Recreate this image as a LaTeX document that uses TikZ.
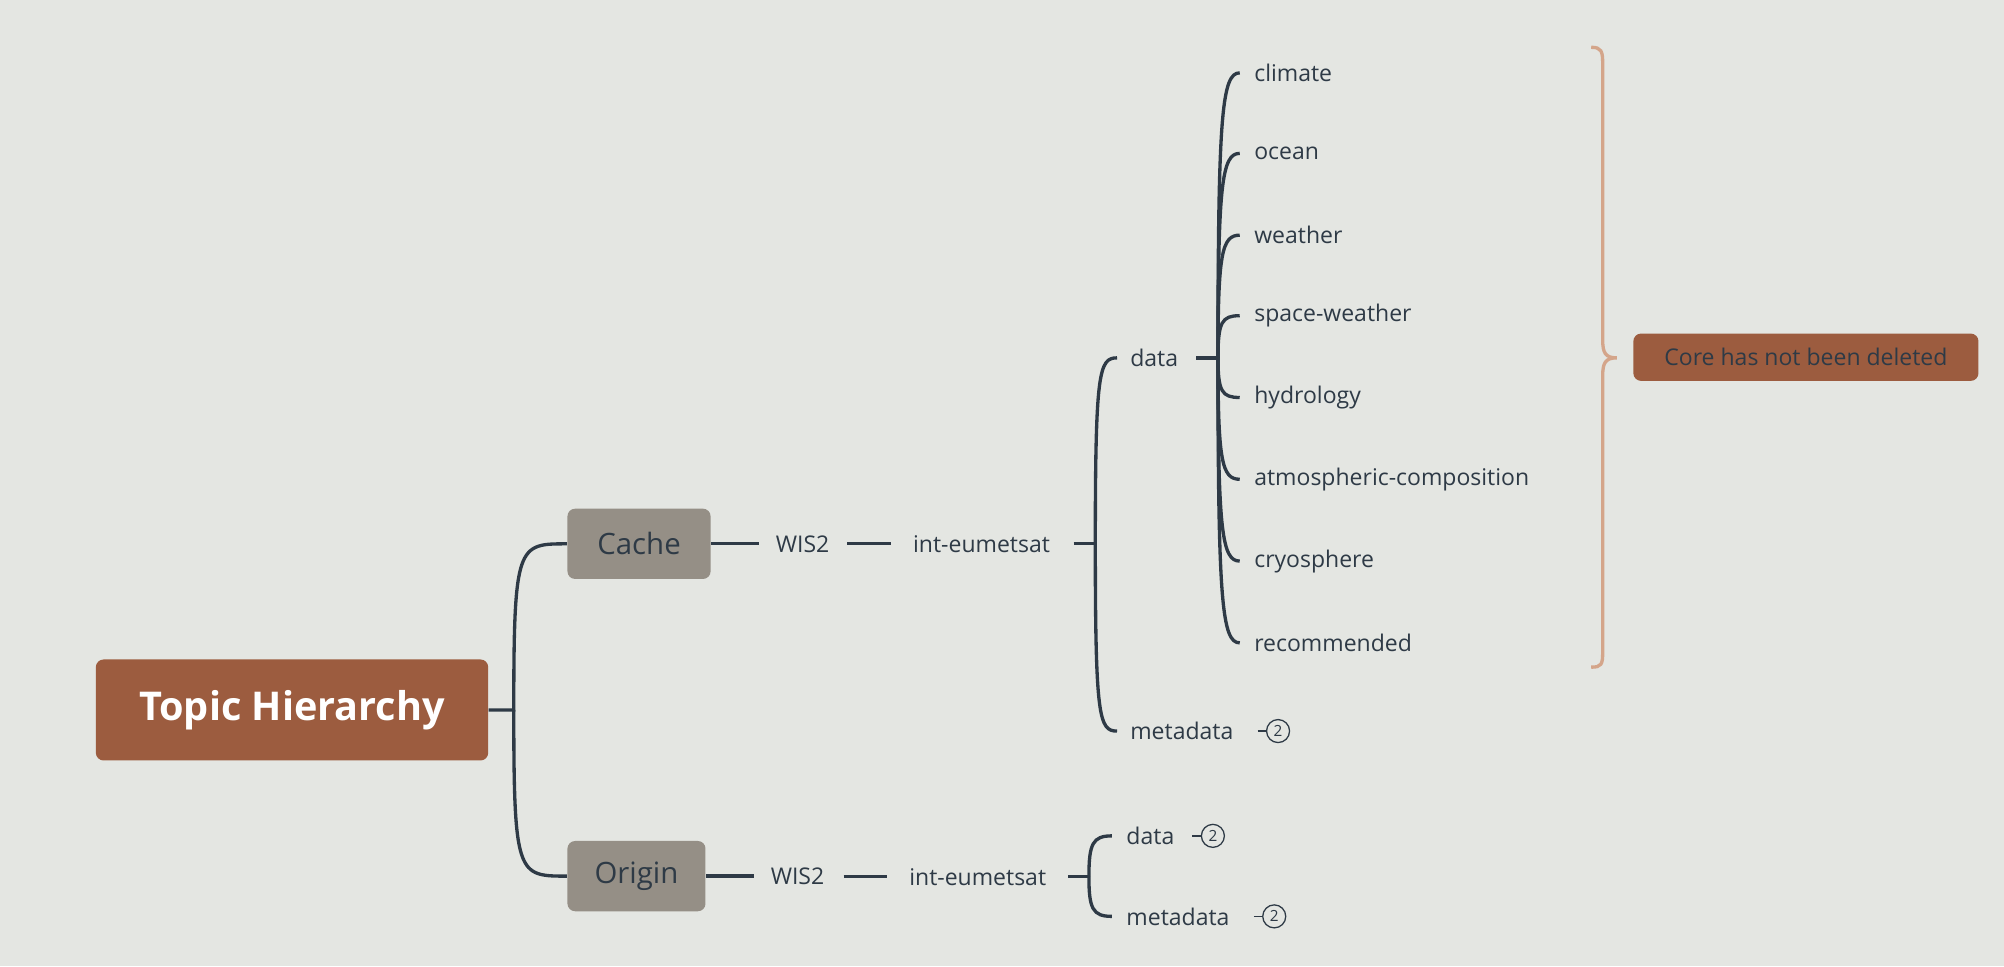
\documentclass[tikz,border=0pt]{standalone}
\usepackage{fontspec}
\setmainfont{Open Sans}
\usetikzlibrary{decorations.pathreplacing}
\definecolor{bg}{HTML}{E4E6E2}
\definecolor{brn}{HTML}{9C5C3F}
\definecolor{gry}{HTML}{958F86}
\definecolor{ln}{HTML}{2E3A46}
\definecolor{brc}{HTML}{D4A58A}
\begin{document}
\begin{tikzpicture}[x=0.5pt,y=-0.5pt,
  leaf/.style={anchor=west,inner sep=0pt,text=ln,font=\fontsize{9}{11}\selectfont},
  mid/.style={inner sep=0pt,text=ln,font=\fontsize{9}{11}\selectfont},
  conn/.style={draw=ln,line width=1.3pt},
  badge/.style={draw=ln,circle,inner sep=0pt,minimum size=9pt,line width=0.5pt,text=ln,font=\fontsize{6}{7}\selectfont}]
\fill[bg] (0,0) rectangle (1568,756);
\useasboundingbox (0,0) rectangle (1568,756);
\node[fill=brn,rounded corners=3pt,minimum width=153.5pt,minimum height=39.5pt,text=white,font=\bfseries\fontsize{15.5}{18}\selectfont] (root) at (228.5,555.5) {Topic Hierarchy};
\node[fill=gry,rounded corners=3pt,minimum width=56pt,minimum height=27.5pt,text=ln,font=\fontsize{11.5}{13}\selectfont] (cache) at (500,425.5) {Cache};
\node[fill=gry,rounded corners=3pt,minimum width=54pt,minimum height=27.5pt,text=ln,font=\fontsize{11.5}{13}\selectfont] (origin) at (498,685.5) {Origin};
\coordinate (rb) at (402,555.5);
\draw[conn] (root.east) -- (rb) .. controls (402,425.5) and (405,425.5) .. (cache.west);
\draw[conn] (rb) .. controls (402,685.5) and (405,685.5) .. (origin.west);
% cache chain
\node[mid] (w1) at (628,425.5) {WIS2};
\node[mid] (e1) at (768,425.5) {int-eumetsat};
\draw[conn] (cache.east) -- (594,425.5);
\draw[conn] (663,425.5) -- (697,425.5);
\coordinate (b1) at (857,425.5);
\draw[conn] (840,425.5) -- (b1);
\node[leaf] (d1) at (884,280) {data};
\node[leaf] (m1) at (884,572) {metadata};
\draw[conn] (b1) .. controls (857,290) and (860,280) .. (874,280);
\draw[conn] (b1) .. controls (857,562) and (860,572) .. (874,572);
\draw[ln,line width=0.6pt] (984,572) -- (991,572);
\node[badge] (c1) at (1000,572) {2};
% data children
\coordinate (b2) at (953,280);
\draw[conn] (936,280) -- (b2);
\foreach \t/\y [count=\i] in {climate/57,ocean/120,weather/184,space-weather/247,hydrology/311,atmospheric-composition/375,cryosphere/439,recommended/503}{
  \node[leaf] (k\i) at (981,\y) {\t};
  \draw[conn] (b2) .. controls (953,{280+0.85*(\y-280)}) and (956,\y) .. (970,\y);
}
% brace
\draw[brc,line width=1.3pt] (1245,37) .. controls (1253,37) and (1254,40) .. (1254,50) -- (1254,266) .. controls (1254,276) and (1256,280) .. (1265,280) .. controls (1256,280) and (1254,284) .. (1254,294) -- (1254,510) .. controls (1254,520) and (1253,522) .. (1245,522);
\node[fill=brn,rounded corners=3pt,minimum width=135pt,minimum height=18.5pt,text=ln,font=\fontsize{9}{11}\selectfont] (note) at (1413,279.5) {Core has not been deleted};
% origin chain
\node[mid] (w2) at (624,686) {WIS2};
\node[mid] (e2) at (765,686) {int-eumetsat};
\draw[conn] (origin.east) -- (590,685.5);
\draw[conn] (660,686) -- (694,686);
\coordinate (b3) at (852,686);
\draw[conn] (836,686) -- (b3);
\node[leaf] (d2) at (881,654) {data};
\node[leaf] (m2) at (881,717) {metadata};
\draw[conn] (b3) .. controls (852,660) and (855,654) .. (870,654);
\draw[conn] (b3) .. controls (852,711) and (855,717) .. (870,717);
\draw[ln,line width=0.6pt] (933,654) -- (940,654);
\node[badge] (c2) at (949,654) {2};
\draw[ln,line width=0.6pt] (981,717) -- (988,717);
\node[badge] (c3) at (997,717) {2};
\end{tikzpicture}
\end{document}
